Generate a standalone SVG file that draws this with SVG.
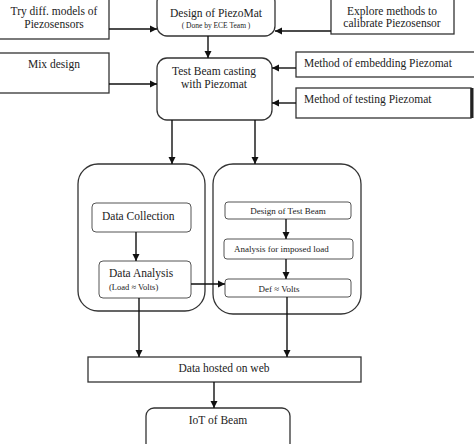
<svg xmlns="http://www.w3.org/2000/svg" width="474" height="444" viewBox="0 0 474 444">
<defs>
<marker id="ah" markerWidth="8" markerHeight="8" refX="7" refY="4" orient="auto" markerUnits="userSpaceOnUse">
<path d="M0,0.5 L7,4 L0,7.5 Z" fill="#111"/>
</marker>
</defs>
<style>
.box{fill:#fff;stroke:#333;stroke-width:1.3}
.thin{fill:#fff;stroke:#555;stroke-width:1}
.t{font-family:"Liberation Serif","Times New Roman",serif;fill:#222;font-size:11.5px}
.s{font-family:"Liberation Serif","Times New Roman",serif;fill:#222;font-size:9px}
.c{stroke:#111;stroke-width:1.4;fill:none}
</style>
<rect width="474" height="444" fill="#fff"/>
<g id="try-diff">
<rect class="box" x="-2" y="-5" width="111" height="44"/>
<text class="t" x="54" y="15" text-anchor="middle">Try diff. models of</text>
<text class="t" x="54" y="28" text-anchor="middle">Piezosensors</text>
</g>
<g id="mix-design">
<rect class="box" x="-2" y="53" width="111" height="40"/>
<text class="t" x="54" y="68" text-anchor="middle">Mix design</text>
</g>
<g id="design-piezomat">
<rect class="box" x="157" y="-8" width="118" height="44" rx="10"/>
<text class="t" x="216" y="17" text-anchor="middle">Design of PiezoMat</text>
<text class="s" x="216" y="28" text-anchor="middle" style="font-size:7.5px">( Done by ECE Team )</text>
</g>
<g id="explore">
<rect class="box" x="331" y="-5" width="123" height="39"/>
<text class="t" x="392" y="15" text-anchor="middle">Explore methods to</text>
<text class="t" x="392" y="27" text-anchor="middle">calibrate Piezosensor</text>
</g>
<g id="test-beam-casting">
<rect class="box" x="157" y="58" width="115" height="62" rx="10"/>
<text class="t" x="214" y="75" text-anchor="middle">Test Beam casting</text>
<text class="t" x="214" y="88" text-anchor="middle">with Piezomat</text>
</g>
<g id="embedding">
<rect class="box" x="296" y="52" width="182" height="25"/>
<text class="t" x="304" y="67">Method of embedding Piezomat</text>
</g>
<g id="testing">
<rect class="box" x="296" y="88" width="175" height="30"/>
<line x1="472" y1="88" x2="472" y2="118" stroke="#222" stroke-width="3"/>
<text class="t" x="304" y="103">Method of testing Piezomat</text>
</g>
<g id="left-container">
<rect class="box" x="78" y="164" width="127" height="147" rx="20"/>
</g>
<g id="right-container">
<rect class="box" x="213" y="164" width="148" height="150" rx="20"/>
</g>
<g id="data-collection">
<rect class="thin" x="92" y="203" width="99" height="29" rx="4"/>
<text class="t" x="102" y="220">Data Collection</text>
</g>
<g id="data-analysis">
<rect class="thin" x="99" y="261" width="92" height="37" rx="4"/>
<text class="t" x="109" y="277">Data Analysis</text>
<text class="s" x="109" y="290" style="font-size:8.5px">(Load ≈ Volts)</text>
</g>
<g id="design-test-beam">
<rect class="thin" x="225" y="202" width="126" height="17" rx="3"/>
<text class="s" x="288" y="214" text-anchor="middle">Design of Test Beam</text>
</g>
<g id="analysis-imposed">
<rect class="thin" x="224" y="239" width="129" height="20" rx="3"/>
<text class="s" x="234" y="252">Analysis for imposed load</text>
</g>
<g id="def-volts">
<rect class="thin" x="225" y="279" width="126" height="18" rx="3"/>
<text class="s" x="279" y="292" text-anchor="middle">Def ≈ Volts</text>
</g>
<g id="data-hosted">
<rect class="box" x="88" y="357" width="273" height="25"/>
<text class="t" x="224" y="372" text-anchor="middle">Data hosted on web</text>
</g>
<g id="iot">
<rect class="box" x="146" y="408" width="144" height="44" rx="8"/>
<text class="t" x="218" y="424" text-anchor="middle">IoT of Beam</text>
</g>
<g id="connectors">
<line class="c" x1="109" y1="29" x2="157" y2="29" marker-end="url(#ah)"/>
<line class="c" x1="109" y1="84" x2="157" y2="84" marker-end="url(#ah)"/>
<line class="c" x1="331" y1="31" x2="275" y2="31" marker-end="url(#ah)"/>
<line class="c" x1="208" y1="36" x2="208" y2="58" marker-end="url(#ah)"/>
<line class="c" x1="296" y1="68" x2="272" y2="68" marker-end="url(#ah)"/>
<line class="c" x1="296" y1="103" x2="272" y2="103" marker-end="url(#ah)"/>
<line class="c" x1="172" y1="120" x2="172" y2="164" marker-end="url(#ah)"/>
<line class="c" x1="255" y1="120" x2="255" y2="164" marker-end="url(#ah)"/>
<line class="c" x1="136" y1="232" x2="136" y2="261" marker-end="url(#ah)"/>
<line class="c" x1="191" y1="284" x2="225" y2="284" marker-end="url(#ah)"/>
<line class="c" x1="286" y1="219" x2="286" y2="239" marker-end="url(#ah)"/>
<line class="c" x1="286" y1="259" x2="286" y2="279" marker-end="url(#ah)"/>
<line class="c" x1="139" y1="298" x2="139" y2="357" marker-end="url(#ah)"/>
<line class="c" x1="287" y1="297" x2="287" y2="357" marker-end="url(#ah)"/>
<line class="c" x1="214" y1="382" x2="214" y2="408" marker-end="url(#ah)"/>
</g>
</svg>
